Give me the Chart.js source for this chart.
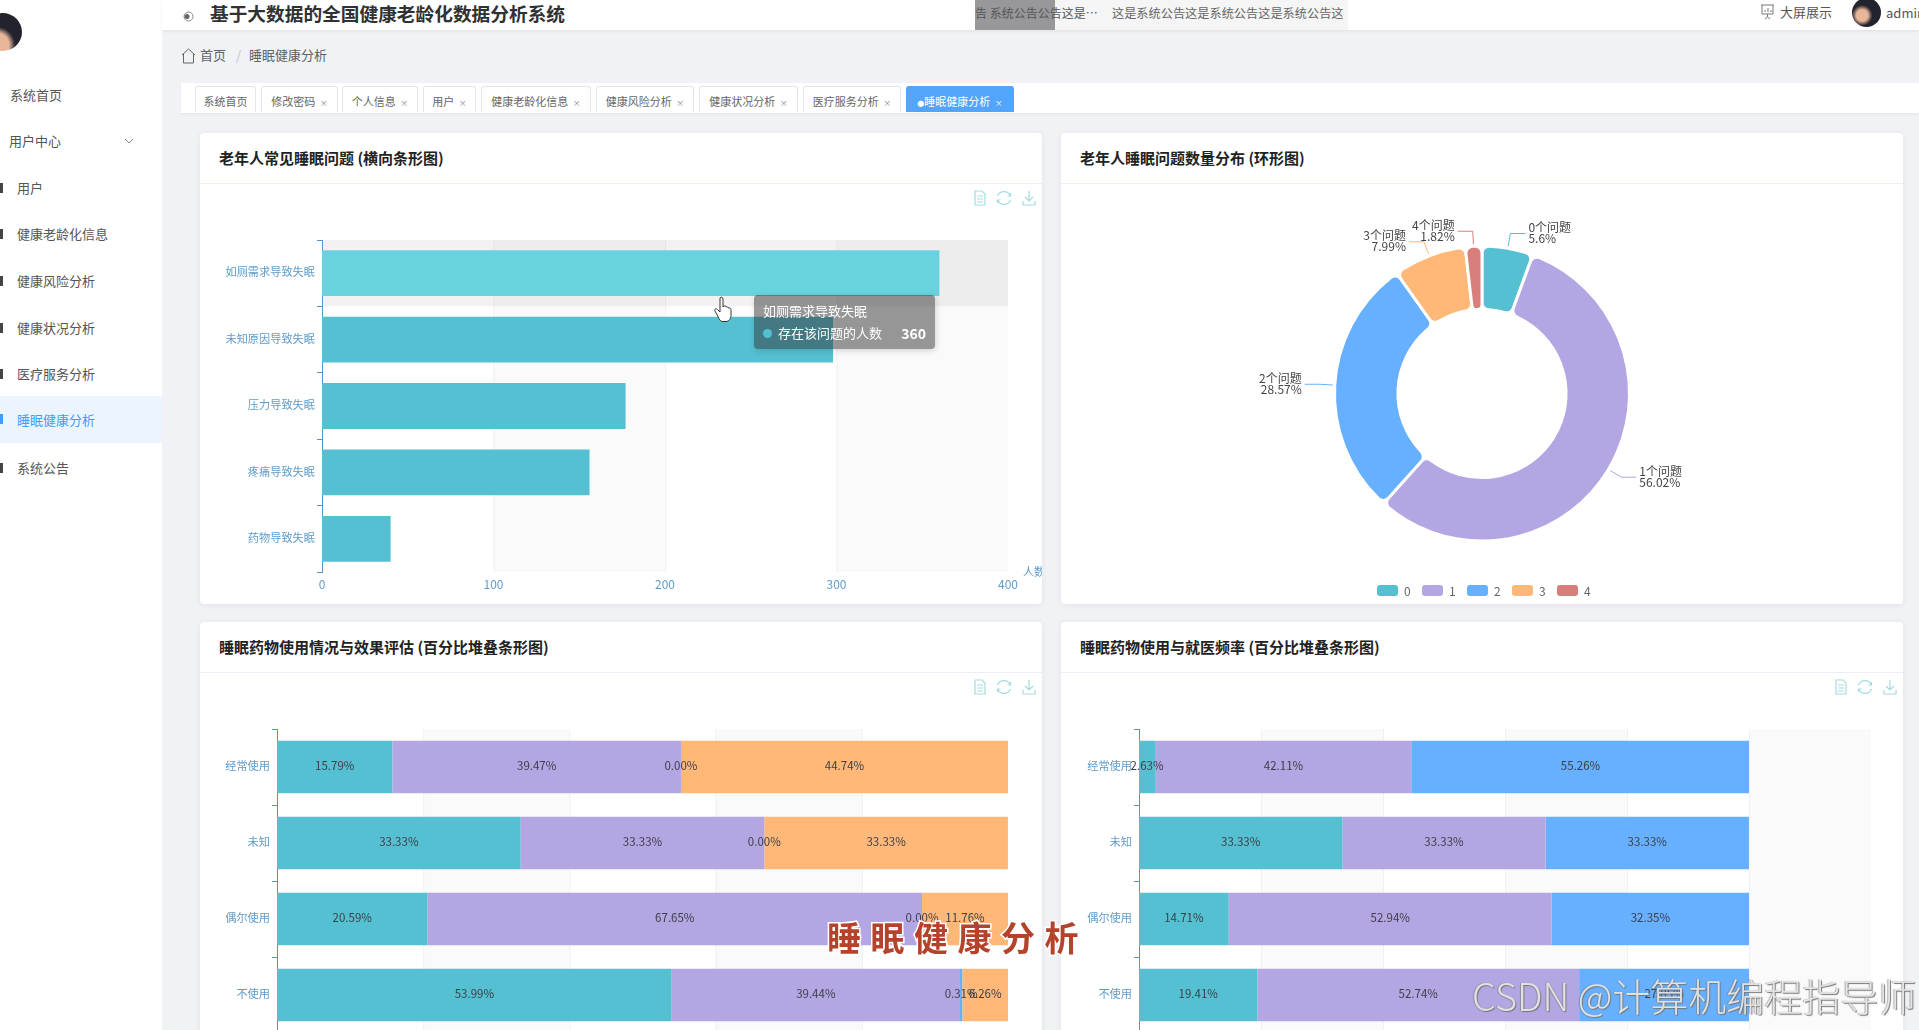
<!DOCTYPE html>
<html>
<head>
<meta charset="utf-8">
<title>睡眠健康分析</title>
<script src="https://cdn.jsdelivr.net/npm/chart.js@4"></script>
<style>
html, body { margin: 0; height: 100%; overflow: hidden; background: #f0f2f5; font-family: "Noto Sans CJK SC", sans-serif; color: #606266; }
.abs, .menu, .tab, .card, .card h3, canvas, .tool { position: absolute; }
.side { position: absolute; left: 0; top: 0; width: 162px; height: 1030px; background: #fff; }
.menu { left: 0; width: 162px; height: 46px; line-height: 45px; font-size: 13px; color: #555; white-space: nowrap; }
.menu.active { background: #ecf5ff; color: #409eff; }
.menu i { position: absolute; left: 0; top: 18px; width: 3px; height: 10px; background: #444; }
.menu.active i { background: #409eff; }
.top { position: absolute; left: 162px; top: 0; right: 0; height: 30px; background: #fff; box-shadow: 0 1px 3px rgba(0,21,41,.08); }
.tabs { position: absolute; left: 181px; top: 83px; right: 0; height: 30px; background: #fff; box-shadow: 0 1px 2px rgba(0,0,0,.06); }
.tab { top: 86px; height: 26px; line-height: 28px; font-size: 11px; color: #666; background: #fff; border: 1px solid #e6e6e6; border-bottom: 0; border-radius: 3px 3px 0 0; box-sizing: border-box; text-align: center; white-space: nowrap; }
.tab s { text-decoration: none; font-size: 8px; margin-left: 2px; color: #888; }
.tab u { text-decoration: none; font-size: 7px; }
.tab.active { background: #53a4fb; color: #fff; border-color: #53a4fb; }
.tab.active s { color: #fff; }
.card { background: #fff; border-radius: 4px; box-shadow: 0 1px 6px rgba(0,0,0,.07); }
.card h3 { margin: 0; left: 19px; top: 15px; font-size: 15px; line-height: 20px; color: #222; white-space: nowrap; }
.card hr { position: absolute; left: 0; right: 0; top: 50px; margin: 0; border: 0; border-top: 1px solid #ebeef5; }
.tool { top: 54px; right: 6px; }
#tip { position: absolute; left: 754px; top: 295px; width: 181px; height: 54px; background: rgba(50,50,50,.5); border-radius: 4px; color: #fff; font-size: 13px; box-shadow: 1px 2px 6px rgba(0,0,0,.15); box-sizing: border-box; padding: 5px 9px; line-height: 22px; white-space: nowrap; }
#tip b { float: right; margin-left: 8px; font-size: 14px; }
#tip i { display: inline-block; width: 9px; height: 9px; border-radius: 5px; margin-right: 6px; }
#legend { position: absolute; left: 1377px; top: 585px; display: flex; font-size: 12px; line-height: 11px; color: #666; }
#legend span { width: 45px; white-space: nowrap; }
#legend i { display: inline-block; width: 21px; height: 11px; border-radius: 3px; margin-right: 6px; vertical-align: top; }
.mark1 { position: absolute; left: 827px; top: 914px; font-size: 34px; line-height: 46px; letter-spacing: 9.5px; font-weight: 700; color: #b5432b; -webkit-text-stroke: 3px #fff; paint-order: stroke fill; white-space: nowrap; }
.mark2 { position: absolute; left: 1472px; top: 969px; font-size: 38px; line-height: 52px; font-weight: 300; color: rgba(235,235,235,.9); text-shadow: 1px 1px 1px #777, -1px 0 1px rgba(120,120,120,.6); white-space: nowrap; }
</style>
</head>
<body>
<div class="side">
  <div class="abs" style="left:-17px;top:13px;width:39px;height:38px;border-radius:50%;background:radial-gradient(circle at 35% 85%,#e8b79a 0 30%,#23232e 45%)"></div>
  <div class="menu" style="top:72px;padding-left:10px;width:152px">系统首页</div>
  <div class="menu" style="top:118px;padding-left:9px;width:153px">用户中心<svg class="abs" style="left:124px;top:20px" width="10" height="6"><path d="M1 1l4 4 4-4" fill="none" stroke="#888"/></svg></div>
  <div class="menu" style="top:165px;padding-left:17px;width:145px"><i></i>用户</div>
  <div class="menu" style="top:211px;padding-left:17px;width:145px"><i></i>健康老龄化信息</div>
  <div class="menu" style="top:258px;padding-left:17px;width:145px"><i></i>健康风险分析</div>
  <div class="menu" style="top:305px;padding-left:17px;width:145px"><i></i>健康状况分析</div>
  <div class="menu" style="top:351px;padding-left:17px;width:145px"><i></i>医疗服务分析</div>
  <div class="menu active" style="top:396px;height:47px;line-height:47px;padding-left:17px;width:145px"><i></i>睡眠健康分析</div>
  <div class="menu" style="top:445px;padding-left:17px;width:145px"><i></i>系统公告</div>
</div>

<div class="top"></div>
<svg class="abs" style="left:182px;top:11px" width="13" height="11"><circle cx="6.5" cy="5.5" r="4.5" fill="none" stroke="#888"/><circle cx="5" cy="5.5" r="2.5" fill="#666"/></svg>
<div class="abs" style="left:210px;top:0;font-size:18.7px;line-height:26px;font-weight:700;color:#303133;white-space:nowrap">基于大数据的全国健康老龄化数据分析系统</div>
<div class="abs" style="left:1055px;top:0;width:293px;height:30px;background:#f5f5f5"></div>
<div class="abs" style="left:975px;top:0;width:80px;height:30px;background:#98989b"></div>
<div class="abs" style="left:975px;top:4px;font-size:12px;line-height:18px;color:#555;white-space:nowrap">告 系统公告公告这是⋯</div>
<div class="abs" style="left:1112px;top:4px;width:236px;overflow:hidden;font-size:12.2px;line-height:18px;color:#666;white-space:nowrap">这是系统公告这是系统公告这是系统公告这</div>
<svg class="abs" style="left:1760px;top:4px" width="15" height="17"><path d="M1 1h13M2 1v9h11V1M7.5 10v3M5 15l2.500-2 2.500 2M5 8V6M8 8V4M11 8V6" fill="none" stroke="#777"/></svg>
<div class="abs" style="left:1780px;top:3px;font-size:13px;line-height:18px;color:#555;white-space:nowrap">大屏展示</div>
<div class="abs" style="left:1852px;top:-2px;width:29px;height:29px;border-radius:50%;background:radial-gradient(circle at 35% 60%,#e8b79a 0 22%,#23232e 40%)"></div>
<div class="abs" style="left:1886px;top:4px;font-size:13px;line-height:18px;color:#555;white-space:nowrap">admin</div>

<svg class="abs" style="left:181px;top:48px" width="15" height="16"><path d="M1 7l6.500-6L14 7M2.500 6v9h10V6" fill="none" stroke="#666"/></svg>
<div class="abs" style="left:200px;top:45px;font-size:13px;line-height:20px;color:#606266;white-space:nowrap">首页</div>
<div class="abs" style="left:236px;top:45px;font-size:13px;line-height:20px;color:#c0c4cc">/</div>
<div class="abs" style="left:249px;top:45px;font-size:13px;line-height:20px;color:#606266;white-space:nowrap">睡眠健康分析</div>

<div class="tabs"></div>
<div class="tab" style="left:195px;width:61px">系统首页</div>
<div class="tab" style="left:261px;width:77px">修改密码 <s>×</s></div>
<div class="tab" style="left:342px;width:76px">个人信息 <s>×</s></div>
<div class="tab" style="left:423px;width:53px">用户 <s>×</s></div>
<div class="tab" style="left:481px;width:110px">健康老龄化信息 <s>×</s></div>
<div class="tab" style="left:596px;width:98px">健康风险分析 <s>×</s></div>
<div class="tab" style="left:699px;width:99px">健康状况分析 <s>×</s></div>
<div class="tab" style="left:803px;width:98px">医疗服务分析 <s>×</s></div>
<div class="tab active" style="left:906px;width:108px"><u>●</u>睡眠健康分析 <s>×</s></div>

<div class="card" style="left:200px;top:133px;width:842px;height:471px">
  <h3>老年人常见睡眠问题 (横向条形图)</h3><hr>
  <canvas id="causeChart" width="842" height="420" style="left:0;top:51px"></canvas>
</div>
<div class="card" style="left:1061px;top:133px;width:842px;height:471px">
  <h3>老年人睡眠问题数量分布 (环形图)</h3><hr>
  <canvas id="countChart" width="842" height="420" style="left:0;top:51px"></canvas>
</div>
<div class="card" style="left:200px;top:622px;width:842px;height:480px">
  <h3>睡眠药物使用情况与效果评估 (百分比堆叠条形图)</h3><hr>
  <canvas id="effectChart" width="842" height="400" style="left:0;top:51px"></canvas>
</div>
<div class="card" style="left:1061px;top:622px;width:842px;height:480px">
  <h3>睡眠药物使用与就医频率 (百分比堆叠条形图)</h3><hr>
  <canvas id="visitChart" width="842" height="400" style="left:0;top:51px"></canvas>
</div>

<div id="tip"></div>
<svg class="abs" style="left:714px;top:296px" width="20" height="27" viewBox="0 0 20 27"><path d="M6 2c1-1.500 3-1 3 1v8l1-1c1-.5 2 0 2 1 1-.7 2 0 2 1 1-.6 3 0 3 1.500v6c0 3-2 6-5 6H9c-2 0-3-1-4-3L1 15c-1-2 1-3 2.500-1.500L6 16V2z" fill="#fff" stroke="#333" stroke-width="1"/></svg>
<div id="legend"></div>

<div class="mark1">睡眠健康分析</div>
<div class="mark2">CSDN @计算机编程指导师</div>

<script>
const causeLabels = ['如厕需求导致失眠', '未知原因导致失眠', '压力导致失眠', '疼痛导致失眠', '药物导致失眠'];
const causeValues = [360, 298, 177, 156, 40];
const causeSeriesName = '存在该问题的人数';

const countNames = ['0个问题', '1个问题', '2个问题', '3个问题', '4个问题'];
const countLegend = ['0', '1', '2', '3', '4'];
const countValues = [5.6, 56.02, 28.57, 7.99, 1.82];

const drugLabels = ['经常使用', '未知', '偶尔使用', '不使用'];

const effectA = [15.79, 33.33, 20.59, 53.99];
const effectB = [39.47, 33.33, 67.65, 39.44];
const effectC = [0, 0, 0, 0.31];
const effectD = [44.74, 33.33, 11.76, 6.26];

const visitA = [2.63, 33.33, 14.71, 19.41];
const visitB = [42.11, 33.33, 52.94, 52.74];
const visitC = [55.26, 33.33, 32.35, 27.85];

const teal = '#55c0d2', purple = '#b4a6e3', blue = '#66b0ff', orange = '#ffb878', red = '#d97f7b';
const hoverTeal = '#68d2df';
const axisColor = '#5b93c7', labelColor = '#5f9ccb';
const cjk = '"Noto Sans CJK SC", sans-serif';

// grey stripes behind the bars, every second x step
const stripes = {
  id: 'stripes',
  beforeDatasetsDraw(chart, args, opts) {
    let x = chart.scales.x, y = chart.scales.y, ctx = chart.ctx;
    let top = chart.chartArea.top, h = chart.chartArea.bottom - top;
    ctx.save();
    for (let i = 0; i < x.ticks.length - 1; i++) {
      let a = x.getPixelForTick(i), b = x.getPixelForTick(i + 1);
      if (i % 2 == 1) {
        ctx.fillStyle = '#fafafa';
        ctx.fillRect(a, top, b - a, h);
      }
      if (i > 0) {
        ctx.fillStyle = '#f1f1f1';
        ctx.fillRect(a, top, 1, h);
      }
    }
    if (opts.hover !== undefined) {
      let band = h / y.ticks.length;
      ctx.fillStyle = 'rgba(150,150,150,0.12)';
      ctx.fillRect(chart.chartArea.left, y.getPixelForTick(opts.hover) - band / 2, chart.chartArea.width, band);
    }
    ctx.restore();
  }
};

// percent text in the middle of each stacked segment
const barLabels = {
  id: 'barLabels',
  afterDatasetsDraw(chart) {
    let ctx = chart.ctx;
    ctx.save();
    ctx.font = '11.5px ' + cjk;
    ctx.fillStyle = '#3c4048';
    ctx.textAlign = 'center';
    ctx.textBaseline = 'middle';
    chart.data.datasets.forEach((ds, i) => {
      chart.getDatasetMeta(i).data.forEach((bar, j) => {
        ctx.fillText(ds.data[j].toFixed(2) + '%', (bar.x + bar.base) / 2, bar.y - 1);
      });
    });
    ctx.restore();
  }
};

// name at the end of the x axis
const axisName = {
  id: 'axisName',
  afterDraw(chart) {
    let ctx = chart.ctx;
    ctx.save();
    ctx.font = '11px ' + cjk;
    ctx.fillStyle = labelColor;
    ctx.textBaseline = 'middle';
    ctx.fillText('人数', chart.chartArea.right + 15, chart.chartArea.bottom);
    ctx.restore();
  }
};

// leader lines and two line labels of the doughnut
const sliceLabels = {
  id: 'sliceLabels',
  afterDatasetsDraw(chart) {
    let ctx = chart.ctx;
    ctx.save();
    ctx.font = '12px ' + cjk;
    ctx.textBaseline = 'middle';
    chart.getDatasetMeta(0).data.forEach((arc, i) => {
      let mid = (arc.startAngle + arc.endAngle) / 2;
      let r = arc.outerRadius;
      let x0 = arc.x + Math.cos(mid) * (r + 2), y0 = arc.y + Math.sin(mid) * (r + 2);
      let x1 = arc.x + Math.cos(mid) * (r + 15), y1 = arc.y + Math.sin(mid) * (r + 15);
      let right = Math.cos(mid) > 0;
      let x2 = x1 + (right ? 15 : -15);
      ctx.strokeStyle = chart.data.datasets[0].backgroundColor[i];
      ctx.lineWidth = 1;
      ctx.beginPath();
      ctx.moveTo(x0, y0);
      ctx.lineTo(x1, y1);
      ctx.lineTo(x2, y1);
      ctx.stroke();
      ctx.fillStyle = '#444';
      ctx.textAlign = right ? 'left' : 'right';
      let tx = x2 + (right ? 3 : -3);
      ctx.fillText(countNames[i], tx, y1 - 6);
      ctx.fillText(countValues[i] + '%', tx, y1 + 5);
    });
    ctx.restore();
  }
};

function yAxis(width) {
  return {
    stacked: true,
    grid: { offset: true, drawOnChartArea: false, tickLength: 5, color: axisColor },
    border: { color: axisColor },
    ticks: { color: labelColor, font: { size: 11.2, family: cjk }, padding: 2, labelOffset: -1 },
    afterFit(s) { s.width = width; }
  };
}

function stackedChart(id, labels, datasets, axisMax, yWidth, rightGap) {
  new Chart(document.getElementById(id), {
    type: 'bar',
    data: {
      labels: labels,
      datasets: datasets.map(d => ({ data: d[0], backgroundColor: d[1], barPercentage: 0.69, categoryPercentage: 1 }))
    },
    options: {
      indexAxis: 'y',
      responsive: false,
      animation: false,
      events: [],
      layout: { padding: { left: 0, right: rightGap, top: 56, bottom: 40 } },
      scales: {
        x: {
          stacked: true, min: 0, max: axisMax,
          grid: { display: false, drawTicks: false }, border: { display: false },
          ticks: { display: false, stepSize: 20 },
          afterFit(s) { s.height = 0; }
        },
        y: yAxis(yWidth)
      },
      plugins: { legend: { display: false }, tooltip: { enabled: false } }
    },
    plugins: [stripes, barLabels]
  });
}

new Chart(document.getElementById('causeChart'), {
  type: 'bar',
  data: {
    labels: causeLabels,
    datasets: [{
      data: causeValues,
      backgroundColor: causeValues.map((v, i) => i == 0 ? hoverTeal : teal),
      barPercentage: 0.69,
      categoryPercentage: 1
    }]
  },
  options: {
    indexAxis: 'y',
    responsive: false,
    animation: false,
    events: [],
    layout: { padding: { left: 0, right: 34, top: 56, bottom: 0 } },
    scales: {
      x: {
        min: 0, max: 400,
        grid: { display: false, drawTicks: false }, border: { display: false },
        ticks: { stepSize: 100, color: labelColor, font: { size: 12, family: cjk }, padding: 5 },
        afterFit(s) { s.height = 32; }
      },
      y: yAxis(122)
    },
    plugins: { legend: { display: false }, tooltip: { enabled: false }, stripes: { hover: 0 } }
  },
  plugins: [stripes, axisName]
});

const sliceColors = [teal, purple, blue, orange, red];
new Chart(document.getElementById('countChart'), {
  type: 'doughnut',
  data: {
    labels: countNames,
    datasets: [{ data: countValues, backgroundColor: sliceColors, borderColor: '#fff', borderWidth: 3, borderRadius: 7 }]
  },
  options: {
    responsive: false,
    animation: false,
    events: [],
    cutout: '57%',
    layout: { padding: { left: 272, right: 272, top: 60, bottom: 61 } },
    plugins: { legend: { display: false }, tooltip: { enabled: false } }
  },
  plugins: [sliceLabels]
});

stackedChart('effectChart', drugLabels, [[effectA, teal], [effectB, purple], [effectC, blue], [effectD, orange]], 100, 77, 34);
stackedChart('visitChart', drugLabels, [[visitA, teal], [visitB, purple], [visitC, blue]], 120, 78, 32);

// tooltip box and legend
document.getElementById('tip').innerHTML = causeLabels[0] + '<br><i style="background:' + teal + '"></i>' + causeSeriesName + '<b>' + causeValues[0] + '</b>';
document.getElementById('legend').innerHTML = countLegend.map((n, i) => '<span><i style="background:' + sliceColors[i] + '"></i>' + n + '</span>').join('');

// toolbox icons
const toolIcons = '<svg width="62" height="16" fill="none" stroke="#a5dbe0" stroke-width="1.2"><path d="M1 1h7l3 3v11H1zM3 6h6M3 9h6M3 12h6"/><path d="M23.500 6a7 7 0 0 1 13 0M36.500 10a7 7 0 0 1-13 0M36.500 3v3h-3M23.500 13v-3h3"/><path d="M55 1v10M51 7l4 4 4-4M49 11v4h12v-4"/></svg>';
['causeChart', 'effectChart', 'visitChart'].forEach(id => {
  let t = document.createElement('div');
  t.className = 'tool';
  t.innerHTML = toolIcons;
  document.getElementById(id).parentNode.appendChild(t);
});
</script>
</body>
</html>
